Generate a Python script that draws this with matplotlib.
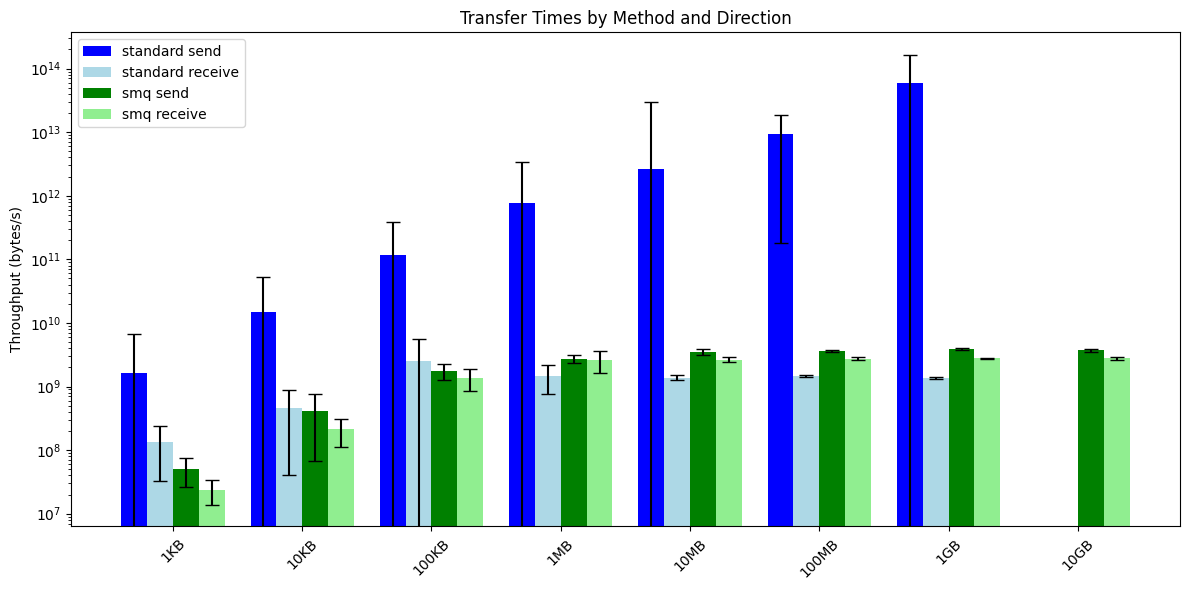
import numpy as np
import matplotlib
matplotlib.use("Agg")
import matplotlib.pyplot as plt

# ── data (bytes/s) ───────────────────────────────────────────────────────────
sizes = ["1KB", "10KB", "100KB", "1MB", "10MB", "100MB", "1GB", "10GB"]

std_send     = [1.66e9, 1.51e10, 1.15e11, 7.6e11, 2.6e12, 9.27e12, 5.96e13, np.nan]
std_send_err = [5.15e9, 3.8e10, 2.75e11, 2.6e12, 2.7e13, 9.09e12, 1.05e14, np.nan]

std_recv     = [1.36e8, 4.66e8, 2.5e9, 1.45e9, 1.38e9, 1.45e9, 1.36e9, np.nan]
std_recv_err = [1.03e8, 4.26e8, 3.0e9, 7.0e8, 1.2e8, 5e7, 4e7, np.nan]

smq_send     = [5.1e7, 4.17e8, 1.78e9, 2.74e9, 3.54e9, 3.67e9, 3.85e9, 3.71e9]
smq_send_err = [2.5e7, 3.5e8, 5.1e8, 4.0e8, 3.9e8, 1.5e8, 1.5e8, 1.8e8]

smq_recv     = [2.38e7, 2.12e8, 1.38e9, 2.65e9, 2.65e9, 2.74e9, 2.78e9, 2.78e9]
smq_recv_err = [1.0e7, 1.0e8, 5.2e8, 1.0e9, 2.5e8, 1.2e8, 7e7, 1.5e8]

series = [
    ("standard send", std_send, std_send_err, "blue"),
    ("standard receive", std_recv, std_recv_err, "lightblue"),
    ("smq send", smq_send, smq_send_err, "green"),
    ("smq receive", smq_recv, smq_recv_err, "lightgreen"),
]

# ── plot ──────────────────────────────────────────────────────────────────────
x = np.arange(len(sizes))
width = 0.2

fig, ax = plt.subplots(figsize=(12, 6), dpi=100)

for i, (label, vals, errs, color) in enumerate(series):
    ax.bar(x + (i - 1.5) * width, vals, width, yerr=errs,
           label=label, color=color, capsize=5)

ax.set_yscale("log")
ax.set_ylim(6.3e6, 3.72e14)
ax.set_xticks(x)
ax.set_xticklabels(sizes, rotation=45)
ax.set_ylabel("Throughput (bytes/s)")
ax.set_title("Transfer Times by Method and Direction")
ax.legend(loc="upper left")

plt.tight_layout()
fig.savefig("out.png", dpi=100, bbox_inches="tight")
